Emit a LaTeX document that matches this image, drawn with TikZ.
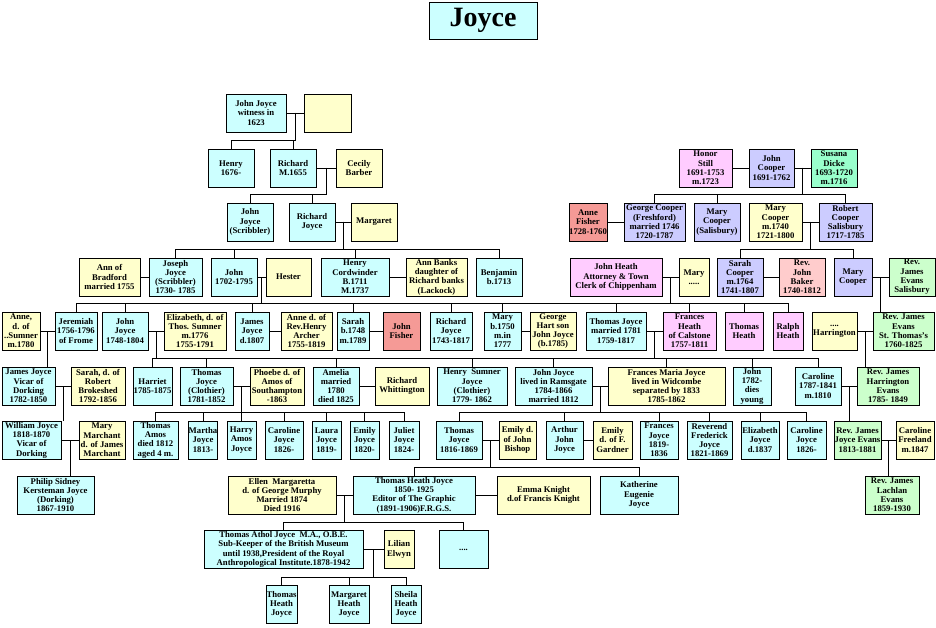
\documentclass[tikz,border=0pt]{standalone}
\usepackage{fontspec}
\setmainfont{Liberation Serif}
\usetikzlibrary{calc}
\definecolor{joyc}{HTML}{CCFFFF}
\definecolor{spousec}{HTML}{FFFFCC}
\definecolor{cooperc}{HTML}{CCCCFF}
\definecolor{heathc}{HTML}{FFCCFF}
\definecolor{fisherc}{HTML}{F59A96}
\definecolor{bakerc}{HTML}{FFCCCC}
\definecolor{evansc}{HTML}{CCFFCC}
\definecolor{dickec}{HTML}{99FFCC}
\tikzset{
  box/.style={draw=black, line width=0.7pt, inner xsep=0pt, inner ysep=0pt, minimum height=38pt, align=center, font=\bfseries\fontsize{8.7}{9.3}\selectfont},
  joy/.style={box, fill=joyc, minimum width=#1pt},
  spouse/.style={box, fill=spousec, minimum width=#1pt},
  cooper/.style={box, fill=cooperc, minimum width=#1pt},
  heath/.style={box, fill=heathc, minimum width=#1pt},
  fisher/.style={box, fill=fisherc, minimum width=#1pt},
  baker/.style={box, fill=bakerc, minimum width=#1pt},
  evans/.style={box, fill=evansc, minimum width=#1pt},
  dicke/.style={box, fill=dickec, minimum width=#1pt},
  wed/.style={double, double distance=6pt, line width=0.7pt},
  kin/.style={line width=0.7pt},
}
\begin{document}
\begin{tikzpicture}[x=1pt, y=-1pt]
    \fill[white] (0,0) rectangle (936,628);
    \useasboundingbox (0,0) rectangle (936,628);

    \node[joy=108, minimum height=37pt, font=\bfseries\fontsize{28}{30}\selectfont] (title) at (483,20.5) {Joyce};

    \node[joy=60] (jjw) at (256,113) {John Joyce\\witness in\\1623};
    \node[spouse=47] (wife0) at (327.5,113) {};

    \node[joy=46] (henry) at (231,168) {Henry\\1676-};
    \node[joy=46] (richard) at (293,168) {Richard\\M.1655};
    \node[spouse=46] (cecily) at (359,168) {Cecily\\Barber};
    \node[heath=53] (honor) at (705.5,168) {Honor\\Still\\1691-1753\\m.1723};
    \node[cooper=45] (jcooper) at (771.5,168) {John\\Cooper\\1691-1762};
    \node[dicke=46] (susana) at (834,168) {Susana\\Dicke\\1693-1720\\m.1716};

    \node[joy=46] (jscrib) at (250,222) {John\\Joyce\\(Scribbler)};
    \node[joy=46] (rjoyce) at (312,222) {Richard\\Joyce};
    \node[spouse=46] (margaret) at (374,222) {Margaret};
    \node[fisher=38] (afisher) at (588,222) {Anne\\Fisher\\1728-1760};
    \node[cooper=61] (gcooper) at (654.5,222) {George Cooper\\(Freshford)\\married 1746\\1720-1787};
    \node[cooper=46] (mcoopers) at (717,222) {Mary\\Cooper\\(Salisbury)};
    \node[spouse=53] (mcooper40) at (775.5,222) {Mary\\Cooper\\m.1740\\1721-1800};
    \node[cooper=53] (rcooper) at (845.5,222) {Robert\\Cooper\\Salisbury\\1717-1785};

    \node[spouse=61] (annb) at (109.5,277) {Ann of\\Bradford\\married 1755};
    \node[joy=53] (joseph) at (175.5,277) {Joseph\\Joyce\\(Scribbler)\\1730- 1785};
    \node[joy=46] (john02) at (234,277) {John\\1702-1795};
    \node[spouse=45] (hester) at (288.5,277) {Hester};
    \node[joy=68] (henryc) at (355,277) {Henry\\Cordwinder\\B.1711\\M.1737};
    \node[spouse=61] (annbanks) at (436.5,277) {Ann Banks\\daughter of\\Richard banks\\(Lackock)};
    \node[joy=46] (benjamin) at (499,277) {Benjamin\\b.1713};
    \node[heath=92] (jheath) at (616,277) {John Heath\\Attorney \& Town\\Clerk of Chippenham};
    \node[spouse=30] (maryh) at (694,277) {Mary\\.....};
    \node[cooper=46] (sarahc) at (740,277) {Sarah\\Cooper\\m.1764\\1741-1807};
    \node[baker=46] (baker) at (802,277) {Rev.\\John\\Baker\\1740-1812};
    \node[cooper=38] (maryc) at (853,277) {Mary\\Cooper};
    \node[evans=46] (evanss) at (912,277) {Rev.\\James\\Evans\\Salisbury};

    \node[spouse=38] (annes) at (21,331) {Anne,\\d. of\\..Sumner\\m.1780};
    \node[joy=42] (jeremiah) at (76,331) {Jeremiah\\1756-1796\\of Frome};
    \node[joy=46] (john48) at (125,331) {John\\Joyce\\1748-1804};
    \node[spouse=62] (elizabeth) at (195,331) {Elizabeth, d. of\\Thos. Sumner\\m.1776\\1755-1791};
    \node[joy=34] (james07) at (252,331) {James\\Joyce\\d.1807};
    \node[spouse=51] (annea) at (306.5,331) {Anne d. of\\Rev.Henry\\Archer\\1755-1819};
    \node[joy=32] (sarah48) at (353,331) {Sarah\\b.1748\\m.1789};
    \node[fisher=37] (jfisher) at (401.5,331) {John\\Fisher};
    \node[joy=42] (richard43) at (451,331) {Richard\\Joyce\\1743-1817};
    \node[joy=37] (mary50) at (502.5,331) {Mary\\b.1750\\m.in\\1777};
    \node[spouse=46] (ghart) at (553,331) {George\\Hart son\\John Joyce\\(b.1785)};
    \node[joy=60] (thomasj) at (616,331) {Thomas Joyce\\married 1781\\1759-1817};
    \node[heath=53] (frances) at (689.5,331) {Frances\\Heath\\of Calstone\\1757-1811};
    \node[heath=38] (theath) at (744,331) {Thomas\\Heath};
    \node[heath=30] (ralph) at (788,331) {Ralph\\Heath};
    \node[spouse=45] (harr) at (834.5,331) {....\\Harrington};
    \node[evans=61] (evanst) at (903.5,331) {Rev. James\\Evans\\St. Thomas's\\1760-1825};

    \node[joy=53] (jamesv) at (28.5,386) {James Joyce\\Vicar of\\Dorking\\1782-1850};
    \node[spouse=54] (sarahb) at (98,386) {Sarah, d. of\\Robert\\Brokeshed\\1792-1856};
    \node[joy=39] (harriet) at (152.5,386) {Harriet\\1785-1875};
    \node[joy=53] (thomasc) at (206.5,386) {Thomas\\Joyce\\(Clothier)\\1781-1852};
    \node[spouse=54] (phoebe) at (277,386) {Phoebe d. of\\Amos of\\Southampton\\-1863};
    \node[joy=46] (amelia) at (336,386) {Amelia\\married\\1780\\died 1825};
    \node[spouse=54] (whitt) at (402,386) {Richard\\Whittington};
    \node[joy=70] (henrys) at (472,386) {Henry\ \ Sumner\\Joyce\\(Clothier)\\1779- 1862};
    \node[joy=77] (johnr) at (553.5,386) {John Joyce\\lived in Ramsgate\\1784-1866\\married 1812};
    \node[spouse=117] (fmaria) at (666.5,386) {Frances Maria Joyce\\lived in Widcombe\\separated by 1833\\1785-1862};
    \node[joy=38] (john82) at (752,386) {John\\1782-\\dies\\young};
    \node[joy=46] (carol87) at (818,386) {Caroline\\1787-1841\\m.1810};
    \node[evans=62] (evansh) at (888,386) {Rev. James\\Harrington\\Evans\\1785- 1849};

    \node[joy=59] (william) at (31.5,440) {William Joyce\\1818-1870\\Vicar of\\Dorking};
    \node[spouse=46] (marym) at (102,440) {Mary\\Marchant\\d. of James\\Marchant};
    \node[joy=45] (thomasa) at (155.5,440) {Thomas\\Amos\\died 1812\\aged 4 m.};
    \node[joy=28] (martha) at (203,440) {Martha\\Joyce\\1813-};
    \node[joy=29] (harry) at (241.5,440) {Harry\\Amos\\Joyce};
    \node[joy=38] (carol26) at (284,440) {Caroline\\Joyce\\1826-};
    \node[joy=29] (laura) at (326.5,440) {Laura\\Joyce\\1819-};
    \node[joy=29] (emily20) at (364.5,440) {Emily\\Joyce\\1820-};
    \node[joy=30] (juliet) at (404,440) {Juliet\\Joyce\\1824-};
    \node[joy=46] (thomas16) at (459,440) {Thomas\\Joyce\\1816-1869};
    \node[spouse=37] (emilyb) at (517.5,440) {Emily d.\\of John\\Bishop};
    \node[joy=37] (arthur) at (564.5,440) {Arthur\\John\\Joyce};
    \node[spouse=39] (emilyg) at (612.5,440) {Emily\\d. of F.\\Gardner};
    \node[joy=38] (francesj) at (659,440) {Frances\\Joyce\\1819-\\1836};
    \node[joy=45] (frederick) at (709.5,440) {Reverend\\Frederick\\Joyce\\1821-1869};
    \node[joy=38] (elizj) at (760,440) {Elizabeth\\Joyce\\d.1837};
    \node[joy=39] (carolj) at (806.5,440) {Caroline\\Joyce\\1826-};
    \node[evans=47] (evansj) at (857.5,440) {Rev. James\\Joyce Evans\\1813-1881};
    \node[spouse=38] (freeland) at (915,440) {Caroline\\Freeland\\m.1847};

    \node[joy=77] (philip) at (55.5,495) {Philip Sidney\\Kersteman Joyce\\(Dorking)\\1867-1910};
    \node[spouse=108] (ellen) at (282,495) {Ellen\ \ Margaretta\\d. of George Murphy\\Married 1874\\Died 1916};
    \node[joy=122] (thj) at (414,495) {Thomas Heath Joyce\\1850- 1925\\Editor of The Graphic\\(1891-1906)F.R.G.S.};
    \node[spouse=93] (emma) at (543.5,495) {Emma Knight\\d.of Francis Knight};
    \node[joy=78] (katherine) at (639,495) {Katherine\\Eugenie\\Joyce};
    \node[evans=54] (lachlan) at (892,495) {Rev. James\\Lachlan\\Evans\\1859-1930};

    \node[joy=159] (athol) at (283.5,549.5) {Thomas Athol Joyce\ \ M.A., O.B.E.\\Sub-Keeper of the British Museum\\until 1938,President of the Royal\\Anthropological Institute.1878-1942};
    \node[spouse=30] (lilian) at (399,549.5) {Lilian\\Elwyn};
    \node[joy=49] (dots) at (463.5,549.5) {....};

    \node[joy=31] (thj2) at (281.5,604.5) {Thomas\\Heath\\Joyce};
    \node[joy=40] (margaret2) at (349,604.5) {Margaret\\Heath\\Joyce};
    \node[joy=30] (sheila) at (406,604.5) {Sheila\\Heath\\Joyce};

    \coordinate (m1) at ($(jjw.east)!.5!(wife0.west)$);
    \coordinate (m2) at ($(richard.east)!.5!(cecily.west)$);
    \coordinate (m3) at ($(rjoyce.east)!.5!(margaret.west)$);
    \coordinate (m4) at ($(john02.east)!.5!(hester.west)$);
    \coordinate (m5) at ($(jheath.east)!.5!(maryh.west)$);
    \coordinate (m6) at ($(jcooper.east)!.5!(susana.west)$);
    \coordinate (m7) at ($(mcooper40.east)!.5!(rcooper.west)$);
    \coordinate (m8) at ($(maryc.east)!.5!(evanss.west)$);
    \coordinate (m9) at ($(annes.east)!.5!(jeremiah.west)$);
    \coordinate (m10) at ($(john48.east)!.5!(elizabeth.west)$);
    \coordinate (m11) at ($(thomasj.east)!.5!(frances.west)$);
    \coordinate (m12) at ($(harr.east)!.5!(evanst.west)$);
    \coordinate (m13) at ($(jamesv.east)!.5!(sarahb.west)$);
    \coordinate (m14) at ($(thomasc.east)!.5!(phoebe.west)$);
    \coordinate (m15) at ($(johnr.east)!.5!(fmaria.west)$);
    \coordinate (m16) at ($(carol87.east)!.5!(evansh.west)$);
    \coordinate (m17) at ($(william.east)!.5!(marym.west)$);
    \coordinate (m18) at ($(thomas16.east)!.5!(emilyb.west)$);
    \coordinate (m19) at ($(evansj.east)!.5!(freeland.west)$);
    \coordinate (m20) at ($(ellen.east)!.5!(thj.west)$);
    \coordinate (m21) at ($(athol.east)!.5!(lilian.west)$);

    \foreach \c in {henry,richard} \draw[kin] (m1) |- ([yshift=8pt]\c.north) -- (\c.north);
    \foreach \c in {jscrib,rjoyce} \draw[kin] (m2) |- ([yshift=8pt]\c.north) -- (\c.north);
    \foreach \c in {joseph,john02,henryc,benjamin} \draw[kin] (m3) |- ([yshift=8pt]\c.north) -- (\c.north);
    \foreach \c in {jeremiah,john48,james07,sarah48,richard43,mary50,thomasj} \draw[kin] (m4) |- ([yshift=8pt]\c.north) -- (\c.north);
    \foreach \c in {thomasj,frances,theath,ralph} \draw[kin] (m5) |- ([yshift=8pt]\c.north) -- (\c.north);
    \foreach \c in {gcooper,mcoopers,rcooper} \draw[kin] (m6) |- ([yshift=8pt]\c.north) -- (\c.north);
    \foreach \c in {sarahc,maryc} \draw[kin] (m7) |- ([yshift=8pt]\c.north) -- (\c.north);
    \foreach \c in {harriet,thomasc,amelia,henrys} \draw[kin] (m10) |- ([yshift=8pt]\c.north) -- (\c.north);
    \foreach \c in {henrys,johnr,fmaria,john82,carol87} \draw[kin] (m11) |- ([yshift=8pt]\c.north) -- (\c.north);
    \foreach \c in {thomasa,martha,harry,carol26,laura,emily20,juliet} \draw[kin] (m14) |- ([yshift=8pt]\c.north) -- (\c.north);
    \foreach \c in {thomas16,arthur,francesj,frederick,elizj,carolj} \draw[kin] (m15) |- ([yshift=8pt]\c.north) -- (\c.north);
    \foreach \c in {thj,katherine} \draw[kin] (m18) |- ([yshift=8pt]\c.north) -- (\c.north);
    \foreach \c in {athol,dots} \draw[kin] (m20) |- ([yshift=8pt]\c.north) -- (\c.north);
    \foreach \c in {thj2,margaret2,sheila} \draw[kin] (m21) |- ([yshift=8pt]\c.north) -- (\c.north);

    \draw[kin] (m8) -- (m8 |- evanst.north);
    \draw[kin] (m9) -- (m9 |- jamesv.north);
    \draw[kin] (m12) -- (m12 |- evansh.north);
    \draw[kin] (m13) -- (m13 |- william.north);
    \draw[kin] (m16) -- (m16 |- evansj.north);
    \draw[kin] (m17) -- (m17 |- philip.north);
    \draw[kin] (m19) -- (m19 |- lachlan.north);

    \path[wed] (jjw) edge (wife0);
    \path[wed] (richard) edge (cecily);
    \path[wed] (honor) edge (jcooper);
    \path[wed] (jcooper) edge (susana);
    \path[wed] (rjoyce) edge (margaret);
    \path[wed] (afisher) edge (gcooper);
    \path[wed] (mcooper40) edge (rcooper);
    \path[wed] (annb) edge (joseph);
    \path[wed] (john02) edge (hester);
    \path[wed] (henryc) edge (annbanks);
    \path[wed] (jheath) edge (maryh);
    \path[wed] (sarahc) edge (baker);
    \path[wed] (maryc) edge (evanss);
    \path[wed] (annes) edge (jeremiah);
    \path[wed] (john48) edge (elizabeth);
    \path[wed] (james07) edge (annea);
    \path[wed] (sarah48) edge (jfisher);
    \path[wed] (mary50) edge (ghart);
    \path[wed] (thomasj) edge (frances);
    \path[wed] (harr) edge (evanst);
    \path[wed] (jamesv) edge (sarahb);
    \path[wed] (thomasc) edge (phoebe);
    \path[wed] (amelia) edge (whitt);
    \path[wed] (johnr) edge (fmaria);
    \path[wed] (carol87) edge (evansh);
    \path[wed] (william) edge (marym);
    \path[wed] (thomas16) edge (emilyb);
    \path[wed] (arthur) edge (emilyg);
    \path[wed] (evansj) edge (freeland);
    \path[wed] (ellen) edge (thj);
    \path[wed] (thj) edge (emma);
    \path[wed] (athol) edge (lilian);

\end{tikzpicture}
\end{document}
